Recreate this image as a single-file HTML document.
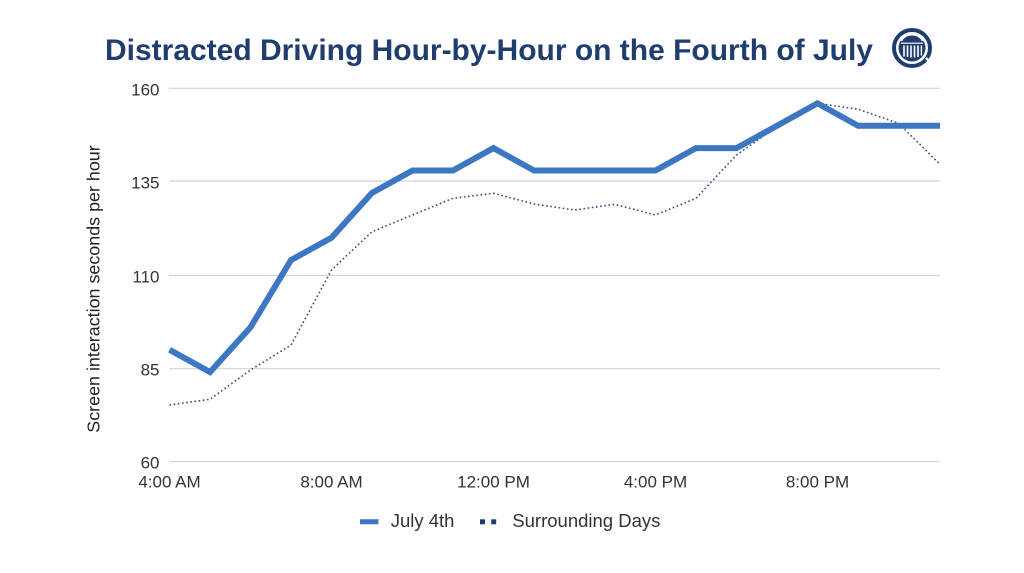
<!DOCTYPE html>
<html>
<head>
<meta charset="utf-8">
<style>
  html, body { margin: 0; padding: 0; background: #ffffff; }
  body { width: 1024px; height: 573px; overflow: hidden; }
  svg { display: block; }
  text { font-family: "Liberation Sans", Arial, sans-serif; }
</style>
</head>
<body>
<svg width="1024" height="573" viewBox="0 0 1024 573" xmlns="http://www.w3.org/2000/svg">
  <rect x="0" y="0" width="1024" height="573" fill="#ffffff"/>

  <!-- Title -->
  <text x="105" y="60" font-size="29.5" font-weight="bold" fill="#1f3d6e" textLength="768" lengthAdjust="spacingAndGlyphs">Distracted Driving Hour-by-Hour on the Fourth of July</text>

  <!-- Logo -->
  <g>
    <circle cx="912" cy="48" r="18" fill="none" stroke="#1f3d6e" stroke-width="4"/>
    <path d="M 926 58 L 930 62" stroke="#ffffff" stroke-width="2.5"/>
    <circle cx="912" cy="48" r="13.5" fill="#1f3d6e"/>
    <!-- dome arc -->
    <path d="M 901.5 41 A 11 9 0 0 1 922.5 41" fill="none" stroke="#ffffff" stroke-width="1.6"/>
    <line x1="901" y1="43.2" x2="923" y2="43.2" stroke="#ffffff" stroke-width="1.2"/>
    <!-- columns -->
    <g fill="#ffffff">
      <rect x="903.2" y="45.5" width="1.6" height="11"/>
      <rect x="906.7" y="45.5" width="1.6" height="11.5"/>
      <rect x="910.2" y="45.5" width="1.6" height="12"/>
      <rect x="913.7" y="45.5" width="1.6" height="12"/>
      <rect x="917.2" y="45.5" width="1.6" height="11.5"/>
      <rect x="920.7" y="45.5" width="1.4" height="10"/>
    </g>
  </g>

  <!-- Gridlines -->
  <g stroke="#d4d4d4" stroke-width="1.2">
    <line x1="169" y1="88.3" x2="940" y2="88.3"/>
    <line x1="169" y1="181" x2="940" y2="181"/>
    <line x1="169" y1="275.5" x2="940" y2="275.5"/>
    <line x1="169" y1="368.7" x2="940" y2="368.7"/>
    <line x1="169" y1="461.7" x2="940" y2="461.7"/>
  </g>

  <!-- Y tick labels -->
  <g font-size="17" fill="#333333" text-anchor="end">
    <text x="159.5" y="95.3">160</text>
    <text x="159.5" y="188.3">135</text>
    <text x="159.5" y="282.5">110</text>
    <text x="159.5" y="375.7">85</text>
    <text x="159.5" y="468.7">60</text>
  </g>

  <!-- X tick labels -->
  <g font-size="17" fill="#333333" text-anchor="middle">
    <text x="169.5" y="487.7">4:00 AM</text>
    <text x="331.5" y="487.7">8:00 AM</text>
    <text x="493.5" y="487.7">12:00 PM</text>
    <text x="655.5" y="487.7">4:00 PM</text>
    <text x="817.5" y="487.7">8:00 PM</text>
  </g>

  <!-- Y axis title -->
  <text transform="translate(99.5,289) rotate(-90)" font-size="17.9" fill="#222222" text-anchor="middle">Screen interaction seconds per hour</text>

  <!-- Surrounding Days (dotted) -->
  <polyline fill="none" stroke="#2e4f86" stroke-width="1.6" stroke-dasharray="1.6 2.6" stroke-linecap="butt"
    points="169.5,405 210,399.3 250.5,370 291,345 331.5,270 372,231.7 412.5,215 453,198.3 493.5,193.3 534,204 574.5,210 615,204.3 655.5,215 696,198.3 736.5,155 777,126.7 817.5,103.3 858,109.3 898.5,123.3 939,163.3"/>

  <!-- July 4th (thick) -->
  <polyline fill="none" stroke="#3c77c4" stroke-width="6" stroke-linejoin="miter" stroke-linecap="butt"
    points="169.5,349.7 210,372.1 250.5,327.3 291,260.1 331.5,237.7 372,192.9 412.5,170.5 453,170.5 493.5,148.1 534,170.5 574.5,170.5 615,170.5 655.5,170.5 696,148.1 736.5,148.1 777,125.7 817.5,103.3 858,125.7 898.5,125.7 940,125.7"/>

  <!-- Legend -->
  <line x1="360" y1="521.7" x2="378.5" y2="521.7" stroke="#3c77c4" stroke-width="5"/>
  <text x="390.7" y="527" font-size="18.5" fill="#333333">July 4th</text>
  <rect x="480" y="519.3" width="5" height="5" fill="#1f3d6e"/>
  <rect x="491.2" y="519.3" width="5" height="5" fill="#1f3d6e"/>
  <text x="512.3" y="527" font-size="18.5" fill="#333333">Surrounding Days</text>
</svg>
</body>
</html>
